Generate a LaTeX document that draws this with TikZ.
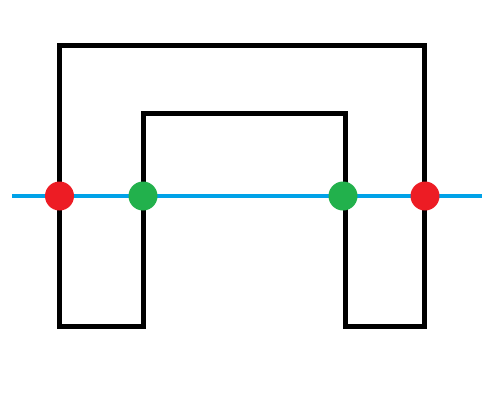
\documentclass[tikz,border=0pt]{standalone}
\definecolor{pblue}{HTML}{00A2E8}
\definecolor{pred}{HTML}{ED1C24}
\definecolor{pgreen}{HTML}{22B14C}
\begin{document}
\begin{tikzpicture}[x=1pt,y=-1pt,
  wall/.style={draw=black,line width=5pt,line join=miter},
  ray/.style={draw=pblue,line width=4.5pt},
  dot/.style={circle,inner sep=0pt,minimum size=29pt}]
\useasboundingbox (0,0) rectangle (500,400);
\draw[wall] (59.5,45) -- (424.5,45) -- (424.5,326) -- (345,326) -- (345,113) -- (143.5,113) -- (143.5,326) -- (59.5,326) -- cycle;
\coordinate (L) at (12,196);
\coordinate (R) at (482,196);
\draw[ray] (L) -- (R);
\node[dot,fill=pred] (r1) at (59.5,196) {};
\node[dot,fill=pgreen] (g1) at (143,196) {};
\node[dot,fill=pgreen] (g2) at (343,196) {};
\node[dot,fill=pred] (r2) at (425,196) {};
\end{tikzpicture}
\end{document}
